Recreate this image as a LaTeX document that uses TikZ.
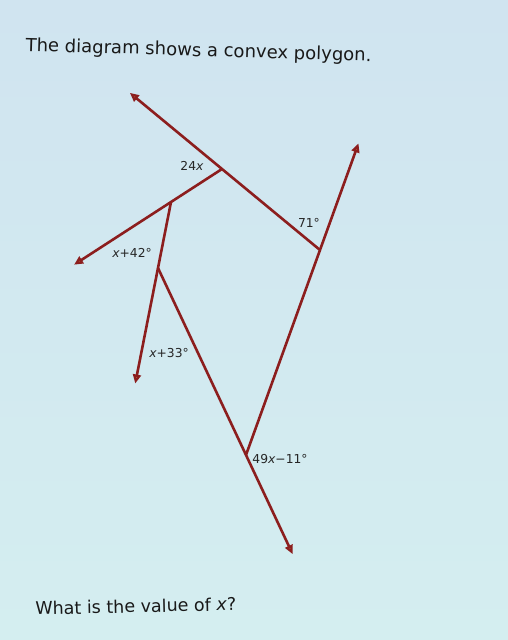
\documentclass[tikz,border=0pt]{standalone}
\usepackage{fontspec}
\setmainfont{DejaVu Sans}
\usepackage{tikz}
\usetikzlibrary{calc, arrows.meta}
\definecolor{screen}{RGB}{208,228,240}
\definecolor{screenb}{RGB}{212,238,240}
\definecolor{rayline}{RGB}{140,30,30}
\definecolor{raytip}{RGB}{190,110,50}
\tikzstyle{ray}   = [line width=2.6pt, rayline, line cap=round, -{Triangle[length=9pt,width=8pt,fill=raytip]}]
\tikzstyle{angle} = [font=\fontsize{12.3}{14}\selectfont, text=black!85, inner sep=1pt]

\begin{document}
\begin{tikzpicture}[x=1pt,y=-1pt]
  \shade[top color=screen, bottom color=screenb] (0,0) rectangle (508,640);
  \useasboundingbox (0,0) rectangle (508,640);

  %corners of the polygon
  \coordinate (A) at (222,169);
  \coordinate (B) at (320,250);
  \coordinate (C) at (246,455);
  \coordinate (D) at (158,268);
  \coordinate (E) at (171,202);

  %ends of the rays
  \coordinate (tl) at ($(B)!1.94!(A)$);
  \coordinate (tr) at ($(C)!1.52!(B)$);
  \coordinate (lt) at ($(A)!2.9!(E)$);
  \coordinate (bl) at ($(E)!2.75!(D)$);
  \coordinate (br) at ($(D)!1.53!(C)$);

  \draw[ray] (B) -- (tl);
  \draw[ray] (C) -- (tr);
  \draw[ray] (A) -- (lt);
  \draw[ray] (E) -- (bl);
  \draw[ray] (D) -- (br);

  %angle labels
  \node[angle] (a24) at (192,166) {24\textit{x}};
  \node[angle] (a71) at (309,223) {71°};
  \node[angle] (a42) at (132,253) {\textit{x}+42°};
  \node[angle] (a33) at (169,353) {\textit{x}+33°};
  \node[angle] (a49) at (280,459) {49\textit{x}−11°};

  %question text
  \node[anchor=base west, rotate=-1.7, font=\fontsize{18}{20}\selectfont, text=black!90] (title) at (22,51) {The diagram shows a convex polygon.};
  \node[anchor=base west, rotate=1.3, font=\fontsize{17.5}{20}\selectfont, text=black!90] (question) at (32,615) {What is the value of \textit{x}?};
\end{tikzpicture}
\end{document}
